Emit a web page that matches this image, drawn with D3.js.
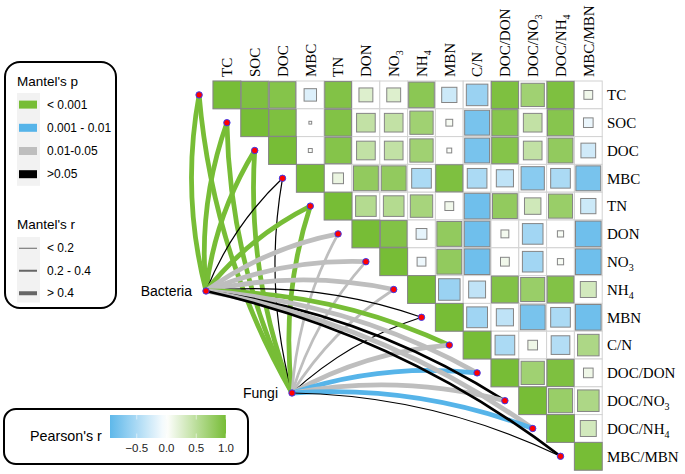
<!DOCTYPE html>
<html><head><meta charset="utf-8">
<script src="https://cdn.jsdelivr.net/npm/d3@7"></script>
<style>body{margin:0;background:#fff}</style>
</head><body>
<svg id="chart" width="685" height="474"></svg>
<script>
// ---------- DATA ----------
const vars = ["TC","SOC","DOC","MBC","TN","DON","NO3","NH4","MBN","C/N","DOC/DON","DOC/NO3","DOC/NH4","MBC/MBN"];
// upper triangle of Pearson's r, row i starts at column i
const rTC     = [1, 0.95, 0.9, -0.2, 0.92, 0.25, 0.25, 0.85, -0.3, -0.6, 0.95, 0.7, 0.95, 0.1];
const rSOC    = [1, 0.95, 0.01, 0.92, 0.45, 0.45, 0.7, 0.06, -0.8, 0.88, 0.45, 0.88, -0.12];
const rDOC    = [1, 0.02, 0.9, 0.45, 0.45, 0.7, 0.03, -0.8, 0.9, 0.45, 0.8, -0.28];
const rMBC    = [1, 0.15, 0.8, 0.8, -0.5, 0.95, -0.5, -0.38, -0.7, -0.5, -0.8];
const rTN     = [1, 0.55, 0.55, 0.65, 0.1, -0.85, 0.8, 0.35, 0.75, -0.3];
const rDON    = [1, 0.92, -0.15, 0.8, -0.85, 0.08, -0.55, 0.05, -0.85];
const rNO3    = [1, -0.1, 0.8, -0.85, 0.1, -0.55, 0.05, -0.85];
const rNH4    = [1, -0.6, -0.37, 0.92, 0.75, 0.92, 0.33];
const rMBN    = [1, -0.56, -0.38, -0.8, -0.5, -0.85];
const rCN     = [1, -0.5, 0.12, -0.45, 0.6];
const rDOCDON = [1, 0.7, 0.95, 0.12];
const rDOCNO3 = [1, 0.75, 0.6];
const rDOCNH4 = [1, 0.33];
const rMBCMBN = [1];
const corrRows = [rTC, rSOC, rDOC, rMBC, rTN, rDON, rNO3, rNH4, rMBN, rCN, rDOCDON, rDOCNO3, rDOCNH4, rMBCMBN];

// Mantel test links
const mantelSpecies = ["Bacteria","Bacteria","Bacteria","Bacteria","Bacteria","Bacteria","Bacteria","Bacteria","Bacteria","Bacteria","Bacteria","Bacteria","Bacteria","Bacteria",
                       "Fungi","Fungi","Fungi","Fungi","Fungi","Fungi","Fungi","Fungi","Fungi","Fungi","Fungi","Fungi","Fungi","Fungi"];
const mantelEnv = vars.concat(vars);
const mantelR = [0.55, 0.55, 0.55, 0.1, 0.5, 0.45, 0.45, 0.45, 0.1, 0.42, 0.45, 0.3, 0.45, 0.3,
                 0.5, 0.5, 0.5, 0.1, 0.5, 0.3, 0.3, 0.3, 0.1, 0.45, 0.45, 0.45, 0.45, 0.1];
const mantelP = [0.0005, 0.0005, 0.0005, 0.2, 0.0005, 0.03, 0.03, 0.03, 0.3, 0.0008, 0.02, 0.1, 0.02, 0.08,
                 0.0005, 0.0005, 0.0005, 0.4, 0.0005, 0.04, 0.04, 0.03, 0.3, 0.02, 0.005, 0.02, 0.005, 0.2];

const pLabels = ["< 0.001", "0.001 - 0.01", "0.01-0.05", ">0.05"];
const rLabels = ["< 0.2", "0.2 - 0.4", "> 0.4"];
const barTicks = [-0.5, 0, 0.5, 1];

// ---------- STYLE / LAYOUT ----------
const BLUE = "#56B4E9", GREEN = "#77BD36", GRAY = "#BEBEBE";
const SERIF = "'Liberation Serif','Times New Roman',serif";
const SANS = "'Liberation Sans',Arial,sans-serif";
const svg = d3.select("#chart");

const x = d3.scaleBand().domain(vars).range([213, 602.2]);
const y = d3.scaleBand().domain(vars).range([81, 470.2]);
const cs = x.bandwidth();
const fill = d3.scaleLinear().domain([-1, 0, 1]).range([BLUE, "#FFFFFF", GREEN]);

const pColor = d3.scaleThreshold().domain([0.001, 0.01, 0.05]).range([GREEN, BLUE, GRAY, "#000000"]);
const rWidth = d3.scaleThreshold().domain([0.2, 0.4]).range([1.2, 2.7, 4.8]);

// matrix cells
const cells = [];
corrRows.forEach((row, i) => row.forEach((r, k) => cells.push({row: vars[i], col: vars[i + k], r})));

const gm = svg.append("g");
gm.selectAll("rect.cell").data(cells).join("rect")
  .attr("x", d => x(d.col)).attr("y", d => y(d.row))
  .attr("width", cs).attr("height", cs)
  .attr("fill", "#fff").attr("stroke", "#d2d2d2").attr("stroke-width", 1);
gm.selectAll("rect.sq").data(cells).join("rect")
  .each(function(d){
    const s = Math.sqrt(Math.abs(d.r)) * cs;
    d3.select(this)
      .attr("x", x(d.col) + (cs - s) / 2).attr("y", y(d.row) + (cs - s) / 2)
      .attr("width", s).attr("height", s);
  })
  .attr("fill", d => fill(d.r)).attr("stroke", "#858585").attr("stroke-width", 1);

// labels with subscripts
function addLabel(sel, name){
  const m = name.match(/^(.*?)(NO|NH)(\d)$/);
  if (m){
    sel.append("tspan").text(m[1] + m[2]);
    sel.append("tspan").attr("font-size", "10px").attr("dy", 4).text(m[3]);
  } else sel.text(name);
}
vars.forEach(v => {
  const t = svg.append("text")
    .attr("transform", `translate(${x(v) + cs / 2},77) rotate(-90)`)
    .attr("dy", "0.35em").attr("font-family", SERIF).attr("font-size", "15px").attr("fill", "#000");
  addLabel(t, v);
  const t2 = svg.append("text")
    .attr("x", 607).attr("y", y(v) + cs / 2).attr("dy", "0.35em")
    .attr("font-family", SERIF).attr("font-size", "15px").attr("fill", "#000");
  addLabel(t2, v);
});

// nodes
const envPos = v => [x(v) + cs / 2 - cs, y(v) + cs / 2];
const speciesPos = {Bacteria: [206, 291], Fungi: [292, 393]};

const links = mantelSpecies.map((s, i) => ({s, e: mantelEnv[i], r: mantelR[i], p: mantelP[i], order: vars.indexOf(mantelEnv[i]) * 2 + (s === "Fungi" ? 1 : 0)}))
  .sort((a, b) => a.order - b.order);

const gl = svg.append("g");
gl.selectAll("path").data(links).join("path")
  .attr("d", d => {
    const [x1, y1] = speciesPos[d.s], [x2, y2] = envPos(d.e);
    const dx = x2 - x1, dy = y2 - y1, k = 0.11;
    const cx = (x1 + x2) / 2 + k * dy, cy = (y1 + y2) / 2 - k * dx;
    return `M${x1},${y1}Q${cx},${cy} ${x2},${y2}`;
  })
  .attr("fill", "none").attr("stroke", d => pColor(d.p)).attr("stroke-width", d => rWidth(d.r));

const dots = vars.map(envPos).concat(Object.values(speciesPos));
svg.append("g").selectAll("circle").data(dots).join("circle")
  .attr("cx", d => d[0]).attr("cy", d => d[1]).attr("r", 3.2)
  .attr("fill", "#FF0000").attr("stroke", "#3A3AF0").attr("stroke-width", 1);

svg.append("text").attr("x", 192).attr("y", 296).attr("text-anchor", "end")
  .attr("font-family", SANS).attr("font-size", "14px").text("Bacteria");
svg.append("text").attr("x", 278).attr("y", 398).attr("text-anchor", "end")
  .attr("font-family", SANS).attr("font-size", "14px").text("Fungi");

// ---------- Mantel legend ----------
const lg = svg.append("g");
lg.append("rect").attr("x", 5).attr("y", 62).attr("width", 111).attr("height", 246).attr("rx", 15)
  .attr("fill", "#fff").attr("stroke", "#000").attr("stroke-width", 2);
lg.append("text").attr("x", 17).attr("y", 86).attr("font-family", SANS).attr("font-size", "13.5px").text("Mantel's p");
const pKeyH = 23.2;
lg.append("rect").attr("x", 17).attr("y", 93).attr("width", 23).attr("height", pKeyH * 4).attr("fill", "#F2F2F2");
pLabels.forEach((lab, i) => {
  const cy = 93 + pKeyH * i + pKeyH / 2;
  lg.append("rect").attr("x", 19).attr("y", cy - 4).attr("width", 18).attr("height", 8)
    .attr("fill", pColor.range()[i]);
  lg.append("text").attr("x", 47).attr("y", cy).attr("dy", "0.35em")
    .attr("font-family", SANS).attr("font-size", "12px").text(lab);
});
lg.append("text").attr("x", 17).attr("y", 229).attr("font-family", SANS).attr("font-size", "13.5px").text("Mantel's r");
const rKeyH = 22.5;
lg.append("rect").attr("x", 17).attr("y", 237).attr("width", 23).attr("height", rKeyH * 3 - 2).attr("fill", "#F2F2F2");
const keyW = [1, 2, 4];
rLabels.forEach((lab, i) => {
  const cy = 237 + rKeyH * i + rKeyH / 2;
  lg.append("line").attr("x1", 19).attr("x2", 37).attr("y1", cy).attr("y2", cy)
    .attr("stroke", "#666").attr("stroke-width", keyW[i]);
  lg.append("text").attr("x", 47).attr("y", cy).attr("dy", "0.35em")
    .attr("font-family", SANS).attr("font-size", "12px").text(lab);
});

// ---------- Pearson legend ----------
const pg = svg.append("g");
pg.append("rect").attr("x", 4).attr("y", 409).attr("width", 244).attr("height", 55).attr("rx", 12)
  .attr("fill", "#fff").attr("stroke", "#000").attr("stroke-width", 2);
pg.append("text").attr("x", 30).attr("y", 441).attr("font-family", SANS).attr("font-size", "14.3px").text("Pearson's r");
const barX = d3.scaleLinear().domain([-0.95, 1]).range([110, 226]);
const defs = svg.append("defs");
const grad = defs.append("linearGradient").attr("id", "pgrad").attr("x1", "0%").attr("x2", "100%");
d3.range(0, 1.0001, 0.05).forEach(t => {
  const v = -0.95 + t * 1.95;
  grad.append("stop").attr("offset", (t * 100) + "%").attr("stop-color", fill(v));
});
pg.append("rect").attr("x", 110).attr("y", 415).attr("width", 116).attr("height", 23).attr("fill", "url(#pgrad)");
barTicks.forEach(t => {
  const tx = barX(t);
  pg.append("line").attr("x1", tx).attr("x2", tx).attr("y1", 415).attr("y2", 419.5).attr("stroke", "#fff").attr("stroke-width", 0.8).attr("opacity", 0.7);
  pg.append("line").attr("x1", tx).attr("x2", tx).attr("y1", 433.5).attr("y2", 438).attr("stroke", "#fff").attr("stroke-width", 0.8).attr("opacity", 0.7);
  pg.append("text").attr("x", tx).attr("y", 452).attr("text-anchor", "middle")
    .attr("font-family", SANS).attr("font-size", "11.5px").attr("fill", "#222").text(d3.format(".1f")(t));
});
</script>
</body></html>
